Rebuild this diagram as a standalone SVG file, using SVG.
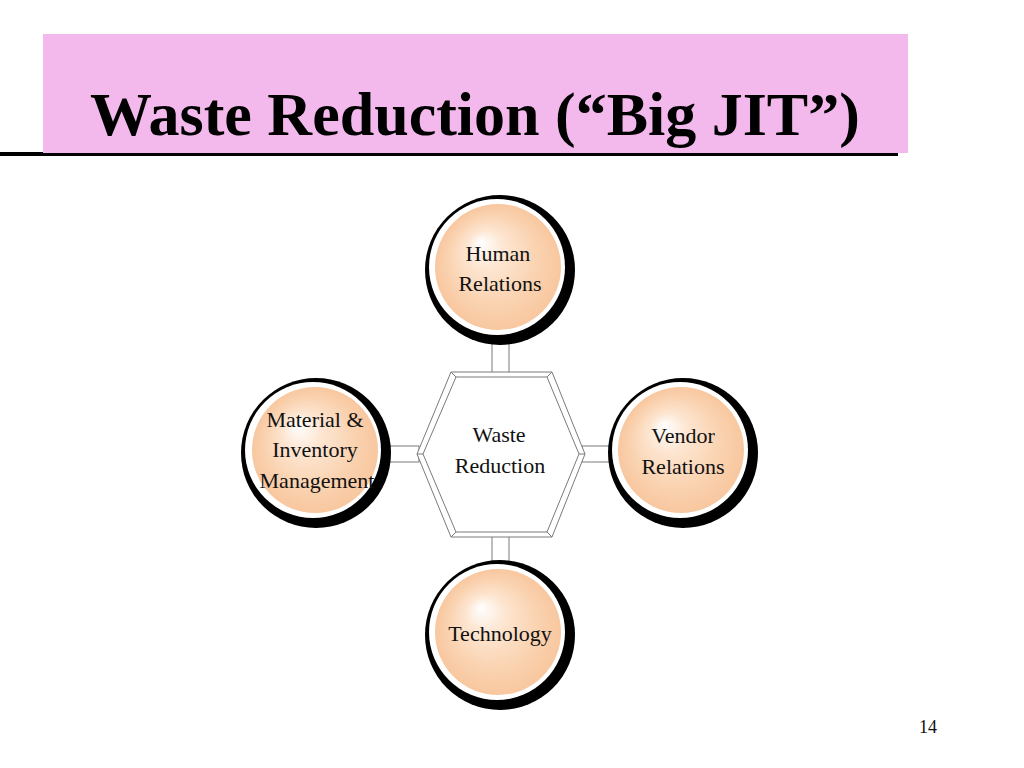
<svg xmlns="http://www.w3.org/2000/svg" width="1024" height="768" viewBox="0 0 1024 768">
<defs>
<radialGradient id="peach" cx="0.5" cy="0.5" r="0.5" fx="0.36" fy="0.3">
<stop offset="0" stop-color="#FFFFFF"/>
<stop offset="0.3" stop-color="#FDE6D2"/>
<stop offset="0.7" stop-color="#FAD3B1"/>
<stop offset="1" stop-color="#F8C79F"/>
</radialGradient>
<style>
.ring{fill:#000}
.gap{fill:#fff}
.ball{fill:url(#peach)}
.lbl{font-family:"Liberation Serif","Times New Roman",serif;font-size:22px;fill:#111;text-anchor:middle}
.conn{fill:#fff;stroke:#7a7a7a;stroke-width:1}
.hex{fill:#fff;stroke:#7a7a7a;stroke-width:1}
</style>
</defs>
<rect width="1024" height="768" fill="#fff"/>
<g id="title">
<rect x="0" y="152" width="898" height="4" fill="#000"/>
<rect x="43" y="34" width="865" height="119" fill="#F4B9EC"/>
<text x="90" y="135" font-family="'Liberation Serif','Times New Roman',serif" font-weight="bold" font-size="62" fill="#000">Waste Reduction (“Big JIT”)</text>
</g>
<g id="connectors">
<rect class="conn" x="492" y="340" width="17" height="34"/>
<rect class="conn" x="384" y="446" width="35" height="16"/>
<rect class="conn" x="582" y="446" width="30" height="16"/>
<rect class="conn" x="492" y="535" width="17" height="30"/>
</g>
<g id="waste-reduction">
<polygon class="hex" points="451,372 552,372 585,454 552,537 451,537 417,454"/>
<polygon class="hex" points="456,377 547,377 579,454 547,532 456,532 423,454"/>
<g stroke="#7a7a7a" stroke-width="1">
<line x1="451" y1="372" x2="456" y2="377"/>
<line x1="552" y1="372" x2="547" y2="377"/>
<line x1="585" y1="454" x2="579" y2="454"/>
<line x1="552" y1="537" x2="547" y2="532"/>
<line x1="451" y1="537" x2="456" y2="532"/>
<line x1="417" y1="454" x2="423" y2="454"/>
</g>
<text class="lbl" x="499" y="442">Waste</text>
<text class="lbl" x="500" y="473">Reduction</text>
</g>
<g id="human-relations">
<circle class="ring" cx="500" cy="270" r="75"/>
<circle class="gap" cx="497" cy="267" r="68"/>
<circle class="ball" cx="498" cy="267" r="63"/>
<text class="lbl" x="498" y="261">Human</text>
<text class="lbl" x="500" y="291">Relations</text>
</g>
<g id="material-inventory">
<circle class="ring" cx="316" cy="453" r="75"/>
<circle class="gap" cx="313" cy="450" r="68"/>
<circle class="ball" cx="315" cy="450" r="63"/>
<text class="lbl" x="315" y="427">Material &amp;</text>
<text class="lbl" x="315" y="457">Inventory</text>
<text class="lbl" x="317" y="488">Management</text>
</g>
<g id="vendor-relations">
<circle class="ring" cx="683" cy="453" r="75"/>
<circle class="gap" cx="680" cy="450" r="68"/>
<circle class="ball" cx="681" cy="450" r="63"/>
<text class="lbl" x="683" y="443">Vendor</text>
<text class="lbl" x="683" y="474">Relations</text>
</g>
<g id="technology">
<circle class="ring" cx="500" cy="635" r="75"/>
<circle class="gap" cx="497" cy="632" r="68"/>
<circle class="ball" cx="498" cy="632" r="63"/>
<text class="lbl" x="500" y="641">Technology</text>
</g>
<text x="928" y="733" font-family="'Liberation Serif','Times New Roman',serif" font-size="18" fill="#111" text-anchor="middle">14</text>
</svg>
